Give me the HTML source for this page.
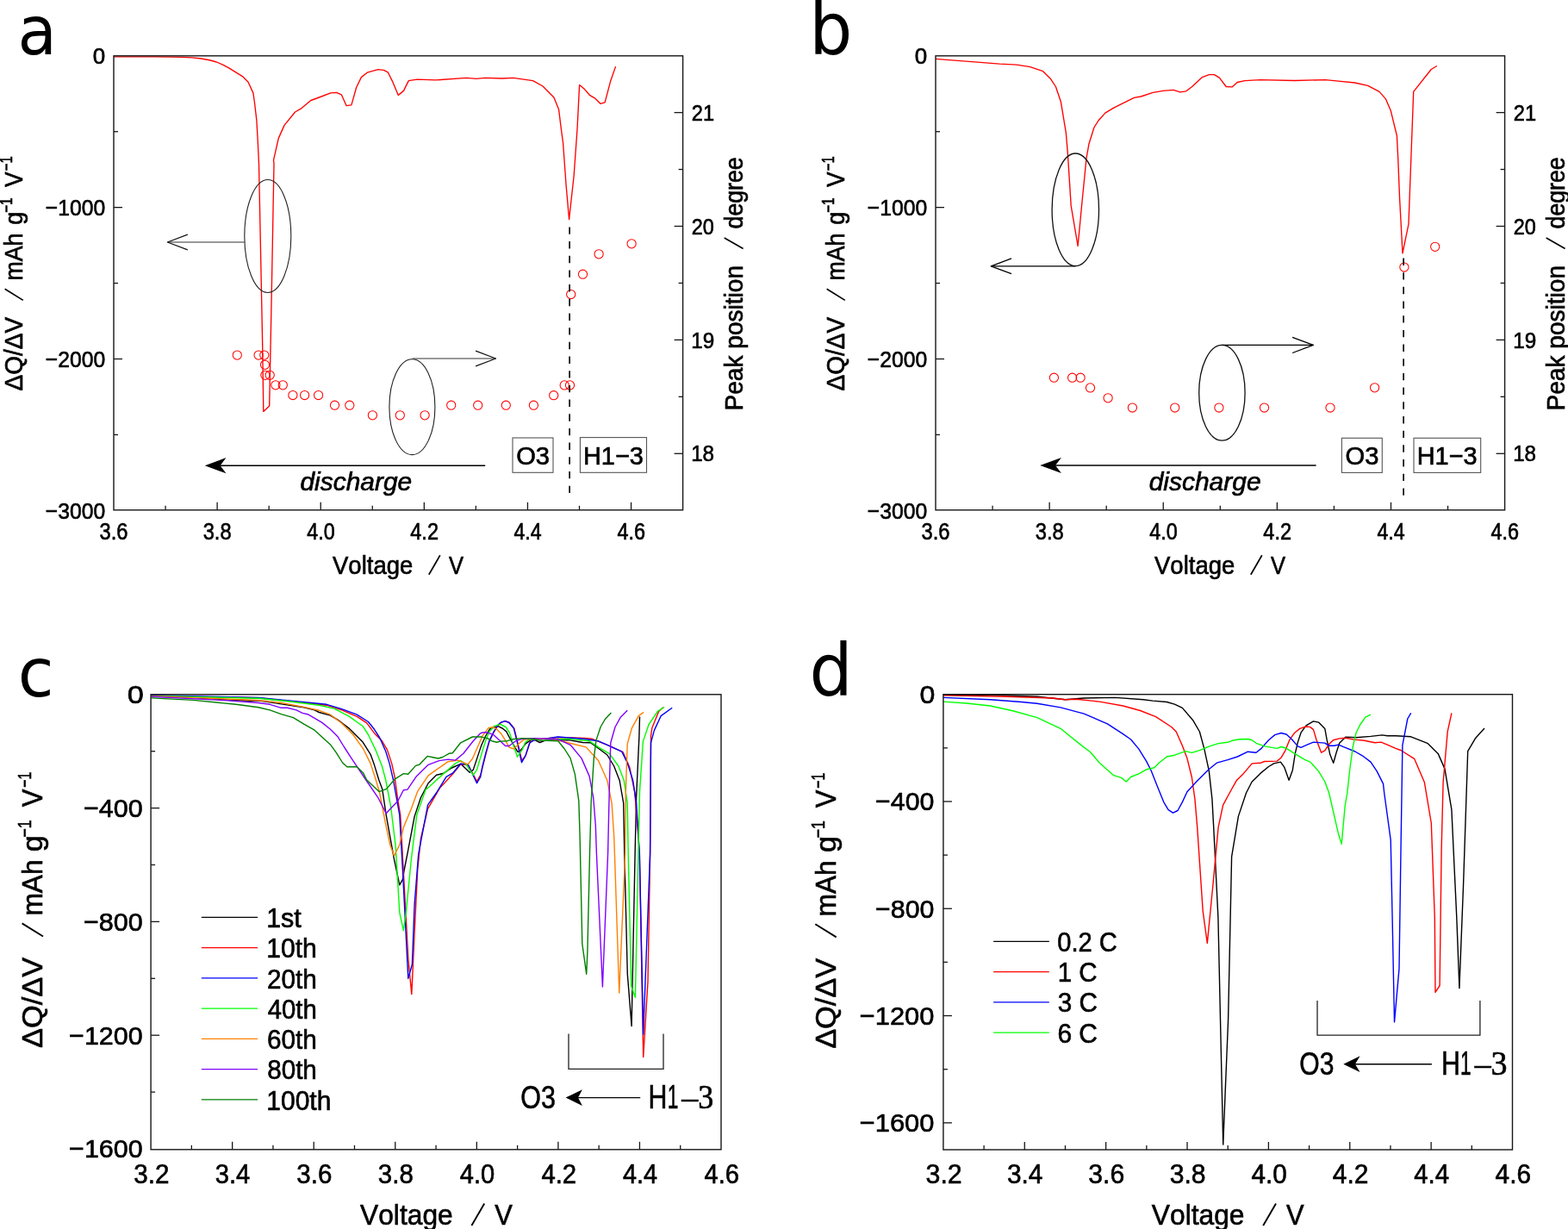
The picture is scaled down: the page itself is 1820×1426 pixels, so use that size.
<!DOCTYPE html>
<html><head><meta charset="utf-8"><title>dQ/dV figure</title>
<style>
html,body{margin:0;padding:0;background:#fff;}
body{width:1820px;height:1426px;overflow:hidden;}
svg{display:block;}
text{font-kerning:none;}
</style></head>
<body>
<svg width="1820" height="1426" viewBox="0 0 1820 1426">
<rect width="1820" height="1426" fill="#fff"/>
<line x1="132" y1="152.72" x2="137" y2="152.72" stroke="#161616" stroke-width="1.3" />
<line x1="132" y1="240.65" x2="142" y2="240.65" stroke="#161616" stroke-width="1.3" />
<line x1="132" y1="328.57" x2="137" y2="328.57" stroke="#161616" stroke-width="1.3" />
<line x1="132" y1="416.5" x2="142" y2="416.5" stroke="#161616" stroke-width="1.3" />
<line x1="132" y1="504.43" x2="137" y2="504.43" stroke="#161616" stroke-width="1.3" />
<line x1="192.05" y1="591.8" x2="192.05" y2="586.8" stroke="#161616" stroke-width="1.3" />
<line x1="252.11" y1="591.8" x2="252.11" y2="582.8" stroke="#161616" stroke-width="1.3" />
<line x1="312.16" y1="591.8" x2="312.16" y2="586.8" stroke="#161616" stroke-width="1.3" />
<line x1="372.22" y1="591.8" x2="372.22" y2="582.8" stroke="#161616" stroke-width="1.3" />
<line x1="432.27" y1="591.8" x2="432.27" y2="586.8" stroke="#161616" stroke-width="1.3" />
<line x1="492.33" y1="591.8" x2="492.33" y2="582.8" stroke="#161616" stroke-width="1.3" />
<line x1="552.38" y1="591.8" x2="552.38" y2="586.8" stroke="#161616" stroke-width="1.3" />
<line x1="612.44" y1="591.8" x2="612.44" y2="582.8" stroke="#161616" stroke-width="1.3" />
<line x1="672.49" y1="591.8" x2="672.49" y2="586.8" stroke="#161616" stroke-width="1.3" />
<line x1="732.55" y1="591.8" x2="732.55" y2="582.8" stroke="#161616" stroke-width="1.3" />
<line x1="792.6" y1="130.6" x2="782.6" y2="130.6" stroke="#161616" stroke-width="1.3" />
<line x1="792.6" y1="196.55" x2="787.6" y2="196.55" stroke="#161616" stroke-width="1.3" />
<line x1="792.6" y1="262.5" x2="782.6" y2="262.5" stroke="#161616" stroke-width="1.3" />
<line x1="792.6" y1="328.45" x2="787.6" y2="328.45" stroke="#161616" stroke-width="1.3" />
<line x1="792.6" y1="394.4" x2="782.6" y2="394.4" stroke="#161616" stroke-width="1.3" />
<line x1="792.6" y1="460.35" x2="787.6" y2="460.35" stroke="#161616" stroke-width="1.3" />
<line x1="792.6" y1="526.3" x2="782.6" y2="526.3" stroke="#161616" stroke-width="1.3" />
<text transform="translate(107.79,73.75) scale(0.9752,1)" font-family="'Liberation Sans', Arial, sans-serif" font-size="26.60" fill="#000" stroke="#000" stroke-width="0.65">0</text>
<text transform="translate(52.78,249.8) scale(0.9287,1)" font-family="'Liberation Sans', Arial, sans-serif" font-size="26.60" fill="#000" stroke="#000" stroke-width="0.65">−1000</text>
<text transform="translate(52.78,425.65) scale(0.9287,1)" font-family="'Liberation Sans', Arial, sans-serif" font-size="26.60" fill="#000" stroke="#000" stroke-width="0.65">−2000</text>
<text transform="translate(52.78,601.5) scale(0.9287,1)" font-family="'Liberation Sans', Arial, sans-serif" font-size="26.60" fill="#000" stroke="#000" stroke-width="0.65">−3000</text>
<text transform="translate(115.6,626.2) scale(0.8777,1)" font-family="'Liberation Sans', Arial, sans-serif" font-size="27.00" fill="#000" stroke="#000" stroke-width="0.65">3.6</text>
<text transform="translate(235.71,626.2) scale(0.8774,1)" font-family="'Liberation Sans', Arial, sans-serif" font-size="27.00" fill="#000" stroke="#000" stroke-width="0.65">3.8</text>
<text transform="translate(356.18,626.2) scale(0.8645,1)" font-family="'Liberation Sans', Arial, sans-serif" font-size="27.00" fill="#000" stroke="#000" stroke-width="0.65">4.0</text>
<text transform="translate(476.29,626.2) scale(0.8719,1)" font-family="'Liberation Sans', Arial, sans-serif" font-size="27.00" fill="#000" stroke="#000" stroke-width="0.65">4.2</text>
<text transform="translate(596.4,626.2) scale(0.8582,1)" font-family="'Liberation Sans', Arial, sans-serif" font-size="27.00" fill="#000" stroke="#000" stroke-width="0.65">4.4</text>
<text transform="translate(716.51,626.2) scale(0.8677,1)" font-family="'Liberation Sans', Arial, sans-serif" font-size="27.00" fill="#000" stroke="#000" stroke-width="0.65">4.6</text>
<text transform="translate(802.81,139.75) scale(0.8905,1)" font-family="'Liberation Sans', Arial, sans-serif" font-size="26.60" fill="#000" stroke="#000" stroke-width="0.65">21</text>
<text transform="translate(802.82,271.65) scale(0.8820,1)" font-family="'Liberation Sans', Arial, sans-serif" font-size="26.60" fill="#000" stroke="#000" stroke-width="0.65">20</text>
<text transform="translate(802.15,403.55) scale(0.9125,1)" font-family="'Liberation Sans', Arial, sans-serif" font-size="26.60" fill="#000" stroke="#000" stroke-width="0.65">19</text>
<text transform="translate(802.16,535.45) scale(0.9089,1)" font-family="'Liberation Sans', Arial, sans-serif" font-size="26.60" fill="#000" stroke="#000" stroke-width="0.65">18</text>
<text transform="translate(385.98,665.8) scale(0.9425,1)" font-family="'Liberation Sans', Arial, sans-serif" font-size="29.20" fill="#000" stroke="#000" stroke-width="0.65">Voltage</text>
<line x1="497.8" y1="666.8" x2="510.8" y2="644.3" stroke="#000" stroke-width="1.7" />
<text transform="translate(520.99,665.8) scale(0.8741,1)" font-family="'Liberation Sans', Arial, sans-serif" font-size="29.20" fill="#000" stroke="#000" stroke-width="0.65">V</text>
<g transform="translate(26.2,452.7) rotate(-90)">
<text transform="translate(-0.84,0) scale(0.9537,1)" font-family="'Liberation Sans', Arial, sans-serif" font-size="29.40" fill="#000" stroke="#000" stroke-width="0.65">ΔQ/ΔV</text>
<line x1="104.3" y1="0.6" x2="117.5" y2="-20.58" stroke="#000" stroke-width="1.7" />
<text transform="translate(127.12,0) scale(0.9118,1)" font-family="'Liberation Sans', Arial, sans-serif" font-size="29.40" fill="#000" stroke="#000" stroke-width="0.65">mAh</text>
<text transform="translate(191.87,0) scale(0.9152,1)" font-family="'Liberation Sans', Arial, sans-serif" font-size="29.40" fill="#000" stroke="#000" stroke-width="0.65">g</text>
<text transform="translate(205.85,-12.6) scale(0.7785,1)" font-family="'Liberation Sans', Arial, sans-serif" font-size="19.60" fill="#000" stroke="#000" stroke-width="0.65">−1</text>
<text transform="translate(235.58,0) scale(0.8940,1)" font-family="'Liberation Sans', Arial, sans-serif" font-size="29.40" fill="#000" stroke="#000" stroke-width="0.65">V</text>
<text transform="translate(254.47,-12.6) scale(0.7589,1)" font-family="'Liberation Sans', Arial, sans-serif" font-size="19.60" fill="#000" stroke="#000" stroke-width="0.65">−1</text>
</g>
<g transform="translate(862,474.2) rotate(-90)">
<text transform="translate(-2.3,0) scale(0.9685,1)" font-family="'Liberation Sans', Arial, sans-serif" font-size="29.00" fill="#000" stroke="#000" stroke-width="0.65">Peak position</text>
<line x1="185.8" y1="0.6" x2="198.1" y2="-21.3" stroke="#000" stroke-width="1.7" />
<text transform="translate(208.78,0) scale(0.9203,1)" font-family="'Liberation Sans', Arial, sans-serif" font-size="29.00" fill="#000" stroke="#000" stroke-width="0.65">degree</text>
</g>
<text transform="translate(20.45,63.38) scale(0.9365,1)" font-family="'DejaVu Sans', sans-serif" font-size="79.06" fill="#000">a</text>
<polyline points="132,65.8 180,65.9 199.3,66.1 212.1,66.3 222.9,66.9 233.6,68 244.3,70 251.4,72 258.6,75.1 265.7,78.9 272.9,83.4 281.4,88.6 287.9,95 293.9,107.9 295.7,120.7 297.9,140 299.2,162.7 300.5,190 304.7,400.5 305.8,477.4 312.7,471 315.3,337.4 318,190 317.5,185.8 323.3,160.4 330,145.4 342.5,130 349.2,126.2 360.8,116.5 370.4,113 383.8,107.9 390.6,107.3 396.3,109.8 402.1,122.7 407.9,121.9 413.7,101.2 419.4,89.6 426.2,84.2 438.7,80.6 445.4,81.3 450.2,83.8 456,95.4 462.3,110.4 468.5,105.4 474.3,93.6 484.3,92.1 505.7,92.9 541.4,90.4 552.9,91.4 562.9,90.3 582.9,91 595.7,90.3 618.6,93.6 630,100 642.9,112.9 648.6,127.1 651.4,150 653.6,166.2 657.2,216.3 660.6,254.6 661.7,244.3 666.1,204.5 670,150 672.6,98.6 678.6,103.6 684.3,110.3 690,113.6 696.9,120.3 702.1,118.9 708.6,94.3 714.6,77.1" fill="none" stroke="#ff0000" stroke-width="1.35" stroke-linejoin="round" />
<circle cx="275.3" cy="412.1" r="5.1" fill="none" stroke="#ff0000" stroke-width="1.05"/>
<circle cx="300.1" cy="412.1" r="5.1" fill="none" stroke="#ff0000" stroke-width="1.05"/>
<circle cx="306.8" cy="412.1" r="5.1" fill="none" stroke="#ff0000" stroke-width="1.05"/>
<circle cx="307.5" cy="423.3" r="5.1" fill="none" stroke="#ff0000" stroke-width="1.05"/>
<circle cx="307.9" cy="435.3" r="5.1" fill="none" stroke="#ff0000" stroke-width="1.05"/>
<circle cx="313.2" cy="435.3" r="5.1" fill="none" stroke="#ff0000" stroke-width="1.05"/>
<circle cx="319.9" cy="446.8" r="5.1" fill="none" stroke="#ff0000" stroke-width="1.05"/>
<circle cx="328.3" cy="446.8" r="5.1" fill="none" stroke="#ff0000" stroke-width="1.05"/>
<circle cx="339.9" cy="458.5" r="5.1" fill="none" stroke="#ff0000" stroke-width="1.05"/>
<circle cx="353.6" cy="458.5" r="5.1" fill="none" stroke="#ff0000" stroke-width="1.05"/>
<circle cx="369.6" cy="458.5" r="5.1" fill="none" stroke="#ff0000" stroke-width="1.05"/>
<circle cx="388.5" cy="470.2" r="5.1" fill="none" stroke="#ff0000" stroke-width="1.05"/>
<circle cx="405.8" cy="470.2" r="5.1" fill="none" stroke="#ff0000" stroke-width="1.05"/>
<circle cx="432.4" cy="481.8" r="5.1" fill="none" stroke="#ff0000" stroke-width="1.05"/>
<circle cx="464.3" cy="481.8" r="5.1" fill="none" stroke="#ff0000" stroke-width="1.05"/>
<circle cx="493.1" cy="481.8" r="5.1" fill="none" stroke="#ff0000" stroke-width="1.05"/>
<circle cx="523.7" cy="470.2" r="5.1" fill="none" stroke="#ff0000" stroke-width="1.05"/>
<circle cx="554.7" cy="470.2" r="5.1" fill="none" stroke="#ff0000" stroke-width="1.05"/>
<circle cx="587.3" cy="470.2" r="5.1" fill="none" stroke="#ff0000" stroke-width="1.05"/>
<circle cx="619.4" cy="470.2" r="5.1" fill="none" stroke="#ff0000" stroke-width="1.05"/>
<circle cx="642.7" cy="458.7" r="5.1" fill="none" stroke="#ff0000" stroke-width="1.05"/>
<circle cx="655.2" cy="446.9" r="5.1" fill="none" stroke="#ff0000" stroke-width="1.05"/>
<circle cx="661.5" cy="446.9" r="5.1" fill="none" stroke="#ff0000" stroke-width="1.05"/>
<circle cx="662.7" cy="341.5" r="5.1" fill="none" stroke="#ff0000" stroke-width="1.05"/>
<circle cx="676.5" cy="318.2" r="5.1" fill="none" stroke="#ff0000" stroke-width="1.05"/>
<circle cx="695.1" cy="294.8" r="5.1" fill="none" stroke="#ff0000" stroke-width="1.05"/>
<circle cx="733.1" cy="282.8" r="5.1" fill="none" stroke="#ff0000" stroke-width="1.05"/>
<ellipse cx="310.8" cy="274" rx="27" ry="65.5" fill="none" stroke="#222" stroke-width="1.1"/>
<line x1="283.8" y1="281" x2="194.4" y2="281" stroke="#333" stroke-width="1.0" />
<polyline points="217.8,272.1 194.4,281 217.8,289.9" fill="none" stroke="#111" stroke-width="1.15" stroke-linejoin="round" />
<ellipse cx="478.4" cy="472.2" rx="26.5" ry="55.4" fill="none" stroke="#222" stroke-width="1.1"/>
<line x1="478.6" y1="416" x2="575.5" y2="416" stroke="#333" stroke-width="1.0" />
<polyline points="552.1,407.1 575.5,416 552.1,424.9" fill="none" stroke="#111" stroke-width="1.15" stroke-linejoin="round" />
<line x1="661.1" y1="263.4" x2="661.1" y2="573" stroke="#000" stroke-width="1.6" stroke-dasharray="8.4 8.28"/>
<line x1="255.6" y1="540.2" x2="563.2" y2="540.2" stroke="#000" stroke-width="1.4" />
<path d="M237.8,540.2 L262.5,531.1 L255.6,540.2 L262.5,549.3 Z" fill="#000"/>
<text transform="translate(348.49,569.4) scale(1.0006,1)" font-family="'Liberation Sans', Arial, sans-serif" font-size="29.90" font-style="italic" fill="#000" stroke="#000" stroke-width="0.65">discharge</text>
<rect x="595" y="508" width="47" height="40.3" fill="none" stroke="#555" stroke-width="1.1"/>
<text transform="translate(599.22,539.1) scale(0.9976,1)" font-family="'Liberation Sans', Arial, sans-serif" font-size="29.20" fill="#000" stroke="#000" stroke-width="0.65">O3</text>
<rect x="673.4" y="507.6" width="77.1" height="40.7" fill="none" stroke="#555" stroke-width="1.1"/>
<text transform="translate(676.93,539.1) scale(0.9904,1)" font-family="'Liberation Sans', Arial, sans-serif" font-size="29.20" fill="#000" stroke="#000" stroke-width="0.65">H1−3</text>
<line x1="1086" y1="152.72" x2="1091" y2="152.72" stroke="#161616" stroke-width="1.3" />
<line x1="1086" y1="240.65" x2="1096" y2="240.65" stroke="#161616" stroke-width="1.3" />
<line x1="1086" y1="328.57" x2="1091" y2="328.57" stroke="#161616" stroke-width="1.3" />
<line x1="1086" y1="416.5" x2="1096" y2="416.5" stroke="#161616" stroke-width="1.3" />
<line x1="1086" y1="504.43" x2="1091" y2="504.43" stroke="#161616" stroke-width="1.3" />
<line x1="1152.06" y1="591.8" x2="1152.06" y2="586.8" stroke="#161616" stroke-width="1.3" />
<line x1="1218.12" y1="591.8" x2="1218.12" y2="582.8" stroke="#161616" stroke-width="1.3" />
<line x1="1284.18" y1="591.8" x2="1284.18" y2="586.8" stroke="#161616" stroke-width="1.3" />
<line x1="1350.24" y1="591.8" x2="1350.24" y2="582.8" stroke="#161616" stroke-width="1.3" />
<line x1="1416.3" y1="591.8" x2="1416.3" y2="586.8" stroke="#161616" stroke-width="1.3" />
<line x1="1482.36" y1="591.8" x2="1482.36" y2="582.8" stroke="#161616" stroke-width="1.3" />
<line x1="1548.42" y1="591.8" x2="1548.42" y2="586.8" stroke="#161616" stroke-width="1.3" />
<line x1="1614.48" y1="591.8" x2="1614.48" y2="582.8" stroke="#161616" stroke-width="1.3" />
<line x1="1680.54" y1="591.8" x2="1680.54" y2="586.8" stroke="#161616" stroke-width="1.3" />
<line x1="1746.6" y1="130.6" x2="1736.6" y2="130.6" stroke="#161616" stroke-width="1.3" />
<line x1="1746.6" y1="196.55" x2="1741.6" y2="196.55" stroke="#161616" stroke-width="1.3" />
<line x1="1746.6" y1="262.5" x2="1736.6" y2="262.5" stroke="#161616" stroke-width="1.3" />
<line x1="1746.6" y1="328.45" x2="1741.6" y2="328.45" stroke="#161616" stroke-width="1.3" />
<line x1="1746.6" y1="394.4" x2="1736.6" y2="394.4" stroke="#161616" stroke-width="1.3" />
<line x1="1746.6" y1="460.35" x2="1741.6" y2="460.35" stroke="#161616" stroke-width="1.3" />
<line x1="1746.6" y1="526.3" x2="1736.6" y2="526.3" stroke="#161616" stroke-width="1.3" />
<text transform="translate(1061.79,73.75) scale(0.9752,1)" font-family="'Liberation Sans', Arial, sans-serif" font-size="26.60" fill="#000" stroke="#000" stroke-width="0.65">0</text>
<text transform="translate(1006.78,249.8) scale(0.9287,1)" font-family="'Liberation Sans', Arial, sans-serif" font-size="26.60" fill="#000" stroke="#000" stroke-width="0.65">−1000</text>
<text transform="translate(1006.78,425.65) scale(0.9287,1)" font-family="'Liberation Sans', Arial, sans-serif" font-size="26.60" fill="#000" stroke="#000" stroke-width="0.65">−2000</text>
<text transform="translate(1006.78,601.5) scale(0.9287,1)" font-family="'Liberation Sans', Arial, sans-serif" font-size="26.60" fill="#000" stroke="#000" stroke-width="0.65">−3000</text>
<text transform="translate(1069.6,626.2) scale(0.8777,1)" font-family="'Liberation Sans', Arial, sans-serif" font-size="27.00" fill="#000" stroke="#000" stroke-width="0.65">3.6</text>
<text transform="translate(1201.72,626.2) scale(0.8774,1)" font-family="'Liberation Sans', Arial, sans-serif" font-size="27.00" fill="#000" stroke="#000" stroke-width="0.65">3.8</text>
<text transform="translate(1334.2,626.2) scale(0.8645,1)" font-family="'Liberation Sans', Arial, sans-serif" font-size="27.00" fill="#000" stroke="#000" stroke-width="0.65">4.0</text>
<text transform="translate(1466.32,626.2) scale(0.8719,1)" font-family="'Liberation Sans', Arial, sans-serif" font-size="27.00" fill="#000" stroke="#000" stroke-width="0.65">4.2</text>
<text transform="translate(1598.45,626.2) scale(0.8582,1)" font-family="'Liberation Sans', Arial, sans-serif" font-size="27.00" fill="#000" stroke="#000" stroke-width="0.65">4.4</text>
<text transform="translate(1730.56,626.2) scale(0.8677,1)" font-family="'Liberation Sans', Arial, sans-serif" font-size="27.00" fill="#000" stroke="#000" stroke-width="0.65">4.6</text>
<text transform="translate(1756.81,139.75) scale(0.8905,1)" font-family="'Liberation Sans', Arial, sans-serif" font-size="26.60" fill="#000" stroke="#000" stroke-width="0.65">21</text>
<text transform="translate(1756.82,271.65) scale(0.8820,1)" font-family="'Liberation Sans', Arial, sans-serif" font-size="26.60" fill="#000" stroke="#000" stroke-width="0.65">20</text>
<text transform="translate(1756.15,403.55) scale(0.9125,1)" font-family="'Liberation Sans', Arial, sans-serif" font-size="26.60" fill="#000" stroke="#000" stroke-width="0.65">19</text>
<text transform="translate(1756.16,535.45) scale(0.9089,1)" font-family="'Liberation Sans', Arial, sans-serif" font-size="26.60" fill="#000" stroke="#000" stroke-width="0.65">18</text>
<text transform="translate(1339.98,665.8) scale(0.9425,1)" font-family="'Liberation Sans', Arial, sans-serif" font-size="29.20" fill="#000" stroke="#000" stroke-width="0.65">Voltage</text>
<line x1="1451.8" y1="666.8" x2="1464.8" y2="644.3" stroke="#000" stroke-width="1.7" />
<text transform="translate(1474.99,665.8) scale(0.8741,1)" font-family="'Liberation Sans', Arial, sans-serif" font-size="29.20" fill="#000" stroke="#000" stroke-width="0.65">V</text>
<g transform="translate(980.2,452.7) rotate(-90)">
<text transform="translate(-0.84,0) scale(0.9537,1)" font-family="'Liberation Sans', Arial, sans-serif" font-size="29.40" fill="#000" stroke="#000" stroke-width="0.65">ΔQ/ΔV</text>
<line x1="104.3" y1="0.6" x2="117.5" y2="-20.58" stroke="#000" stroke-width="1.7" />
<text transform="translate(127.12,0) scale(0.9118,1)" font-family="'Liberation Sans', Arial, sans-serif" font-size="29.40" fill="#000" stroke="#000" stroke-width="0.65">mAh</text>
<text transform="translate(191.87,0) scale(0.9152,1)" font-family="'Liberation Sans', Arial, sans-serif" font-size="29.40" fill="#000" stroke="#000" stroke-width="0.65">g</text>
<text transform="translate(205.85,-12.6) scale(0.7785,1)" font-family="'Liberation Sans', Arial, sans-serif" font-size="19.60" fill="#000" stroke="#000" stroke-width="0.65">−1</text>
<text transform="translate(235.58,0) scale(0.8940,1)" font-family="'Liberation Sans', Arial, sans-serif" font-size="29.40" fill="#000" stroke="#000" stroke-width="0.65">V</text>
<text transform="translate(254.47,-12.6) scale(0.7589,1)" font-family="'Liberation Sans', Arial, sans-serif" font-size="19.60" fill="#000" stroke="#000" stroke-width="0.65">−1</text>
</g>
<g transform="translate(1816,474.2) rotate(-90)">
<text transform="translate(-2.3,0) scale(0.9685,1)" font-family="'Liberation Sans', Arial, sans-serif" font-size="29.00" fill="#000" stroke="#000" stroke-width="0.65">Peak position</text>
<line x1="185.8" y1="0.6" x2="198.1" y2="-21.3" stroke="#000" stroke-width="1.7" />
<text transform="translate(208.78,0) scale(0.9203,1)" font-family="'Liberation Sans', Arial, sans-serif" font-size="29.00" fill="#000" stroke="#000" stroke-width="0.65">degree</text>
</g>
<text transform="translate(939.23,63.12) scale(0.9496,1)" font-family="'DejaVu Sans', sans-serif" font-size="83.08" fill="#000">b</text>
<polyline points="1086,68.4 1160.2,74.2 1180,75.2 1195.8,77.7 1210.6,82.7 1219.5,91.6 1225.4,100.5 1231.4,118.3 1237.3,153.9 1239.3,177.6 1243.2,238.9 1251.1,285.4 1256.1,233 1261,183.6 1264,166.7 1269.9,148 1274.9,140 1282.8,131.1 1292.7,125.2 1316.4,113.3 1324.3,112 1338.2,107.4 1350,105.4 1361.9,104.4 1369.8,106.8 1376.7,105.8 1383.7,100.5 1395.5,89.6 1403.4,86.6 1409.4,86.6 1415.3,90.2 1423.2,100.5 1430.1,100.9 1436.1,95.5 1445,93.6 1462.7,92.6 1502.5,93.5 1538.5,92.6 1553.6,94.1 1572.5,96 1587.7,99.4 1601,106.4 1608.5,114.9 1614.2,128.2 1621.4,157.5 1622.7,183.1 1624.6,230.4 1628,293.9 1635,259.8 1640.7,106.4 1661.2,80.5 1667.8,76.5" fill="none" stroke="#ff0000" stroke-width="1.35" stroke-linejoin="round" />
<circle cx="1223.4" cy="438.2" r="5.1" fill="none" stroke="#ff0000" stroke-width="1.05"/>
<circle cx="1244.6" cy="438.2" r="5.1" fill="none" stroke="#ff0000" stroke-width="1.05"/>
<circle cx="1254.1" cy="438.2" r="5.1" fill="none" stroke="#ff0000" stroke-width="1.05"/>
<circle cx="1265.5" cy="449.9" r="5.1" fill="none" stroke="#ff0000" stroke-width="1.05"/>
<circle cx="1286.1" cy="461.8" r="5.1" fill="none" stroke="#ff0000" stroke-width="1.05"/>
<circle cx="1314.4" cy="473" r="5.1" fill="none" stroke="#ff0000" stroke-width="1.05"/>
<circle cx="1363.7" cy="473" r="5.1" fill="none" stroke="#ff0000" stroke-width="1.05"/>
<circle cx="1414.9" cy="473" r="5.1" fill="none" stroke="#ff0000" stroke-width="1.05"/>
<circle cx="1467.5" cy="473" r="5.1" fill="none" stroke="#ff0000" stroke-width="1.05"/>
<circle cx="1544" cy="473" r="5.1" fill="none" stroke="#ff0000" stroke-width="1.05"/>
<circle cx="1595.6" cy="449.8" r="5.1" fill="none" stroke="#ff0000" stroke-width="1.05"/>
<circle cx="1629.9" cy="310" r="5.1" fill="none" stroke="#ff0000" stroke-width="1.05"/>
<circle cx="1665.7" cy="286.3" r="5.1" fill="none" stroke="#ff0000" stroke-width="1.05"/>
<ellipse cx="1248.3" cy="243.3" rx="27.2" ry="65.3" fill="none" stroke="#111" stroke-width="1.3"/>
<line x1="1248.2" y1="308.8" x2="1150.3" y2="308.8" stroke="#000" stroke-width="1.3" />
<polyline points="1174,299.9 1150.3,308.8 1174,317.7" fill="none" stroke="#000" stroke-width="1.3" stroke-linejoin="round" />
<ellipse cx="1418.4" cy="455.8" rx="26.7" ry="55.4" fill="none" stroke="#111" stroke-width="1.3"/>
<line x1="1418.4" y1="400.4" x2="1524.3" y2="400.4" stroke="#000" stroke-width="1.3" />
<polyline points="1500.1,391.3 1524.3,400.4 1500.1,409.5" fill="none" stroke="#000" stroke-width="1.3" stroke-linejoin="round" />
<line x1="1629.1" y1="299.5" x2="1629.1" y2="583" stroke="#000" stroke-width="1.6" stroke-dasharray="8.4 8.28"/>
<line x1="1225" y1="540" x2="1527.6" y2="540" stroke="#000" stroke-width="1.4" />
<path d="M1207.2,540 L1231.9,530.9 L1225,540 L1231.9,549.1 Z" fill="#000"/>
<text transform="translate(1333.69,569.4) scale(1.0021,1)" font-family="'Liberation Sans', Arial, sans-serif" font-size="29.90" font-style="italic" fill="#000" stroke="#000" stroke-width="0.65">discharge</text>
<rect x="1557.4" y="508.3" width="46.9" height="40.1" fill="none" stroke="#555" stroke-width="1.1"/>
<text transform="translate(1561.62,539.3) scale(0.9976,1)" font-family="'Liberation Sans', Arial, sans-serif" font-size="29.20" fill="#000" stroke="#000" stroke-width="0.65">O3</text>
<rect x="1641" y="508.3" width="77.7" height="40.1" fill="none" stroke="#555" stroke-width="1.1"/>
<text transform="translate(1644.63,539.3) scale(0.9904,1)" font-family="'Liberation Sans', Arial, sans-serif" font-size="29.20" fill="#000" stroke="#000" stroke-width="0.65">H1−3</text>
<line x1="175.1" y1="871.7" x2="180.1" y2="871.7" stroke="#161616" stroke-width="1.3" />
<line x1="175.1" y1="937.6" x2="185.1" y2="937.6" stroke="#161616" stroke-width="1.3" />
<line x1="175.1" y1="1003.5" x2="180.1" y2="1003.5" stroke="#161616" stroke-width="1.3" />
<line x1="175.1" y1="1069.4" x2="185.1" y2="1069.4" stroke="#161616" stroke-width="1.3" />
<line x1="175.1" y1="1135.3" x2="180.1" y2="1135.3" stroke="#161616" stroke-width="1.3" />
<line x1="175.1" y1="1201.2" x2="185.1" y2="1201.2" stroke="#161616" stroke-width="1.3" />
<line x1="175.1" y1="1267.1" x2="180.1" y2="1267.1" stroke="#161616" stroke-width="1.3" />
<line x1="222.38" y1="1333.8" x2="222.38" y2="1328.8" stroke="#161616" stroke-width="1.3" />
<line x1="269.66" y1="1333.8" x2="269.66" y2="1324.8" stroke="#161616" stroke-width="1.3" />
<line x1="316.94" y1="1333.8" x2="316.94" y2="1328.8" stroke="#161616" stroke-width="1.3" />
<line x1="364.21" y1="1333.8" x2="364.21" y2="1324.8" stroke="#161616" stroke-width="1.3" />
<line x1="411.49" y1="1333.8" x2="411.49" y2="1328.8" stroke="#161616" stroke-width="1.3" />
<line x1="458.77" y1="1333.8" x2="458.77" y2="1324.8" stroke="#161616" stroke-width="1.3" />
<line x1="506.05" y1="1333.8" x2="506.05" y2="1328.8" stroke="#161616" stroke-width="1.3" />
<line x1="553.33" y1="1333.8" x2="553.33" y2="1324.8" stroke="#161616" stroke-width="1.3" />
<line x1="600.61" y1="1333.8" x2="600.61" y2="1328.8" stroke="#161616" stroke-width="1.3" />
<line x1="647.89" y1="1333.8" x2="647.89" y2="1324.8" stroke="#161616" stroke-width="1.3" />
<line x1="695.16" y1="1333.8" x2="695.16" y2="1328.8" stroke="#161616" stroke-width="1.3" />
<line x1="742.44" y1="1333.8" x2="742.44" y2="1324.8" stroke="#161616" stroke-width="1.3" />
<line x1="789.72" y1="1333.8" x2="789.72" y2="1328.8" stroke="#161616" stroke-width="1.3" />
<text transform="translate(147.66,816.26) scale(1.1285,1)" font-family="'Liberation Sans', Arial, sans-serif" font-size="30.40" fill="#000" stroke="#000" stroke-width="0.65">0</text>
<text transform="translate(96.89,948.06) scale(1.0063,1)" font-family="'Liberation Sans', Arial, sans-serif" font-size="30.40" fill="#000" stroke="#000" stroke-width="0.65">−400</text>
<text transform="translate(96.89,1079.86) scale(1.0063,1)" font-family="'Liberation Sans', Arial, sans-serif" font-size="30.40" fill="#000" stroke="#000" stroke-width="0.65">−800</text>
<text transform="translate(80.1,1211.66) scale(1.0037,1)" font-family="'Liberation Sans', Arial, sans-serif" font-size="30.40" fill="#000" stroke="#000" stroke-width="0.65">−1200</text>
<text transform="translate(80.1,1343.46) scale(1.0037,1)" font-family="'Liberation Sans', Arial, sans-serif" font-size="30.40" fill="#000" stroke="#000" stroke-width="0.65">−1600</text>
<text transform="translate(155.17,1372.8) scale(0.9384,1)" font-family="'Liberation Sans', Arial, sans-serif" font-size="31.60" fill="#000" stroke="#000" stroke-width="0.65">3.2</text>
<text transform="translate(249.75,1372.8) scale(0.9235,1)" font-family="'Liberation Sans', Arial, sans-serif" font-size="31.60" fill="#000" stroke="#000" stroke-width="0.65">3.4</text>
<text transform="translate(344.29,1372.8) scale(0.9338,1)" font-family="'Liberation Sans', Arial, sans-serif" font-size="31.60" fill="#000" stroke="#000" stroke-width="0.65">3.6</text>
<text transform="translate(438.85,1372.8) scale(0.9335,1)" font-family="'Liberation Sans', Arial, sans-serif" font-size="31.60" fill="#000" stroke="#000" stroke-width="0.65">3.8</text>
<text transform="translate(533.86,1372.8) scale(0.9197,1)" font-family="'Liberation Sans', Arial, sans-serif" font-size="31.60" fill="#000" stroke="#000" stroke-width="0.65">4.0</text>
<text transform="translate(628.41,1372.8) scale(0.9276,1)" font-family="'Liberation Sans', Arial, sans-serif" font-size="31.60" fill="#000" stroke="#000" stroke-width="0.65">4.2</text>
<text transform="translate(722.98,1372.8) scale(0.9130,1)" font-family="'Liberation Sans', Arial, sans-serif" font-size="31.60" fill="#000" stroke="#000" stroke-width="0.65">4.4</text>
<text transform="translate(817.53,1372.8) scale(0.9231,1)" font-family="'Liberation Sans', Arial, sans-serif" font-size="31.60" fill="#000" stroke="#000" stroke-width="0.65">4.6</text>
<text transform="translate(418.06,1420.8) scale(0.9446,1)" font-family="'Liberation Sans', Arial, sans-serif" font-size="33.60" fill="#000" stroke="#000" stroke-width="0.65">Voltage</text>
<line x1="547.4" y1="1422.1" x2="562.2" y2="1396.6" stroke="#000" stroke-width="1.9" />
<text transform="translate(574.16,1420.8) scale(0.9179,1)" font-family="'Liberation Sans', Arial, sans-serif" font-size="33.60" fill="#000" stroke="#000" stroke-width="0.65">V</text>
<g transform="translate(49.4,1214.9) rotate(-90)">
<text transform="translate(-1.02,0) scale(1.0094,1)" font-family="'Liberation Sans', Arial, sans-serif" font-size="34.00" fill="#000" stroke="#000" stroke-width="0.65">ΔQ/ΔV</text>
<line x1="128.4" y1="0.6" x2="143.5" y2="-23.8" stroke="#000" stroke-width="1.9" />
<text transform="translate(152.29,0) scale(0.9336,1)" font-family="'Liberation Sans', Arial, sans-serif" font-size="34.00" fill="#000" stroke="#000" stroke-width="0.65">mAh</text>
<text transform="translate(226.76,0) scale(1.0072,1)" font-family="'Liberation Sans', Arial, sans-serif" font-size="34.00" fill="#000" stroke="#000" stroke-width="0.65">g</text>
<text transform="translate(243.43,-13.3) scale(0.7806,1)" font-family="'Liberation Sans', Arial, sans-serif" font-size="22.50" fill="#000" stroke="#000" stroke-width="0.65">−1</text>
<text transform="translate(278.56,0) scale(0.9116,1)" font-family="'Liberation Sans', Arial, sans-serif" font-size="34.00" fill="#000" stroke="#000" stroke-width="0.65">V</text>
<text transform="translate(301.12,-13.3) scale(0.6995,1)" font-family="'Liberation Sans', Arial, sans-serif" font-size="22.50" fill="#000" stroke="#000" stroke-width="0.65">−1</text>
</g>
<text transform="translate(20.8,807.58) scale(0.9619,1)" font-family="'DejaVu Sans', sans-serif" font-size="79.06" fill="#000">c</text>
<polyline points="175.8,806.9 290.4,813.2 300,812.9 326.4,816.9 352.7,820.8 365.1,823.9 370.3,826.5 383.5,830.1 392.3,835.3 405.5,845.4 421.3,861.3 430.1,875.3 434.5,887.6 439.8,905 443.7,915.4 448.2,945.6 457.4,996.7 463.8,1026.8 467.4,1020.4 469.2,1009.5 473.8,985.8 481.1,947.4 488.4,925.5 497.1,908.7 506.5,899.3 514.9,897.2 524.3,891 534.7,886.3 545.2,896.2 549.3,893.1 558.7,864.9 560,862 563.9,853.5 568.5,845.8 578.1,842.7 583.1,845 587.8,848.9 591.6,856.2 596.6,865.1 600.9,872.4 603.6,871.3 606.3,868.2 610.1,862.8 615.9,858.9 619.8,858.1 626.6,861.5 632.8,859.1 660,858.6 676.3,861.5 685.4,861.7 694.5,868.2 704.9,876 712.7,889 719.2,905.8 723.7,931.8 724.8,990 728.3,1130.2 733.1,1190.6 737.1,990 738.6,925.3 741.9,853.9 742.5,831.6" fill="none" stroke="#000000" stroke-width="1.4" stroke-linejoin="round" />
<polyline points="175.8,807.1 300,809.8 379.1,818.2 396.7,823.9 414.3,831.4 425.7,838.8 434.5,850.7 443.3,859.5 449.5,870.1 454.7,885.9 458.2,901.7 461.8,928.6 464.7,945.6 469.2,1027.7 473.8,1111.7 477.8,1153.6 481.1,1082.5 484.7,1009.5 488.4,973 496.6,938.3 510.3,914.6 525.3,898.3 534.7,886.8 543.1,887.2 553.5,906.5 557.7,899.4 560.4,889 564.3,873.6 568.1,860.1 573.1,849.7 578.1,841.6 582,838.1 586.6,836.7 591.3,838.5 596.7,845 598.6,852.4 600.9,862 605.7,882.5 610.3,876.4 615.2,861 619.8,858.6 647.5,855.5 678.9,856.5 686.7,857.2 704.9,864.3 723.1,872.7 730.8,890.3 736.7,918.8 739.9,957.7 742.3,990 746.7,1226.5 752,1138.9 754.6,990 755.5,853.9 756.8,844.8 764.6,825.4 769.8,820.8" fill="none" stroke="#ff0000" stroke-width="1.4" stroke-linejoin="round" />
<polyline points="175.8,806.6 300,809.4 379.1,817.3 396.7,822.6 414.3,829.2 427.5,837.5 434.5,846.3 440.7,856 447.7,871.8 452.1,885.9 456.5,905 463.8,945.6 467.4,1009.5 471.1,1082.5 473.8,1135.4 478.4,1119 481.1,1049.6 485.7,991.2 496.6,933.8 506.5,920 518,901.4 525.3,897.2 534.7,886.3 543.1,886.8 553.5,908.7 557.7,901.4 560,889 563.9,873.6 567.7,860.1 572.7,849.7 577.7,841.6 581.6,838.1 586.2,836.7 590.9,838.5 596.3,845 598.2,852.4 600.5,862 605.5,884.7 609.7,877.4 614.8,862 619.8,858.9 647.5,855 676.3,857.2 694.5,859.8 704.9,864.3 721.8,872.1 728.2,885.1 734.7,905.8 738.6,931.8 742.3,990 746.7,1200.2 754.6,990 755.5,861.7 759.4,847.4 767.2,830.6 780.2,821.2" fill="none" stroke="#0000ff" stroke-width="1.4" stroke-linejoin="round" />
<polyline points="175.8,807.4 300,810.3 335.2,813.8 370.3,818.2 387.9,822.1 405.5,831.4 421.3,842.8 427.5,852.5 436.3,870.9 443.3,888.5 447.7,905 453.7,936.5 459.2,982.1 463.8,1058.8 468.3,1079.7 471.1,1060.6 477.4,996.7 483.8,945.6 493.9,916.4 498.4,912.8 511.8,900.4 528.5,885.8 534.7,882.6 541,886.8 549.3,899.3 553.5,893.1 560,871.3 563.9,858.9 567.7,849.3 573.9,842.3 580.8,840.4 587,843.5 591.6,850.4 593.9,858.1 600.5,878.2 606.3,869.7 609.7,861.2 614,858.1 619.8,857.8 660,857.4 684.1,859.8 694.5,866.9 707.5,874.7 717.9,889 724.3,905.8 728.2,931.8 729.2,990 732.7,1144.2 737.4,1157.3 740.9,990 742.5,918.8 746.4,860.4 752.9,841 763.3,825.4 771.1,820.5" fill="none" stroke="#00ff00" stroke-width="1.4" stroke-linejoin="round" />
<polyline points="175.8,807.6 300,812.5 326.4,815.5 352.7,820.4 370.3,824.3 383.5,829.2 396.7,839.3 409.9,852.5 421.3,868.3 430.1,885.9 436.3,905 440.4,918.7 447.3,954.7 452.8,980.3 457.4,993.1 463.8,980.3 468.3,960.2 477.4,938.3 484.7,918.2 497.1,899.9 506.5,893.1 520.1,883.7 531.6,882.1 543.1,886.8 548.3,880.5 556.6,861.8 560,853.9 566.9,844.6 572.7,843.5 576.2,845.8 581.6,851.2 587,859.7 590.9,867 596.3,868.9 602.4,862.8 608.2,858.1 619.8,857.4 640,857.2 659.5,861.7 680.2,866.9 694.5,882.5 704.9,905.8 710.1,931.8 712.7,970.7 713.4,990 718.7,1152.1 725.7,990 726.3,918.8 728.2,863 733.4,844.8 741.2,830.6 747.1,826.4" fill="none" stroke="#ff8000" stroke-width="1.4" stroke-linejoin="round" />
<polyline points="175.8,808.2 257.4,812.4 300,815.5 313.2,817.3 326.4,821.3 333.4,821.3 344,823.9 351,827.4 357.1,828.7 373.8,838.4 383.5,846.3 392.3,855.1 399.3,866.5 407.3,878.8 414.3,889.4 424.8,905 438.7,925.3 448.2,943.8 461.9,929.2 468.3,916.8 472.9,916.1 483.6,900.4 497.1,887.3 509.7,882.6 520.1,881.1 528.5,882.1 537.9,874.3 549.3,859.7 557.7,850.8 560,850 564.6,849.7 572.7,852.4 580.1,859.3 586.6,865.5 590.9,865.5 598.6,859.7 606.3,857.4 619.8,856.6 647.8,857.8 662.1,864.3 675,879.9 684.1,900.6 688.7,925.3 691.3,957.7 692.4,990 699.4,1145 705.6,990 707.5,905.8 708.8,861.7 714,843.5 720.5,831.9 728.2,824.3" fill="none" stroke="#8000ff" stroke-width="1.4" stroke-linejoin="round" />
<polyline points="175.8,809.9 224.4,812.4 273.9,817.3 300,820.8 313.2,823.9 326.4,828.7 340.4,832.7 352.7,840.2 365.1,847.2 374.7,856 383.5,863.9 390.5,873.6 397.6,885 402.9,889.8 414.3,889.8 421.3,896.4 425.7,905 440,918.6 448.6,915.4 458.5,903.8 468.4,897.6 473.7,898.3 482.5,888.4 486.7,887.3 496.1,877.4 501.3,878.5 508.6,880 513.8,878.5 521.1,874.3 525.3,873.8 534.7,861.8 548.3,855 558.7,855 560,855.4 565.8,856.6 570.8,859.7 576.6,861.2 581.2,860.1 588.9,859.7 594.7,857.8 606.3,856.6 619.8,857.4 626.6,859.1 647.8,859.8 655.6,869.5 662.1,879.9 667.3,898.1 671.8,929.2 673.1,970.7 675.8,1095.1 680.7,1130.2 681.9,1103.9 684.5,990 686.1,931.8 689.3,879.9 691.9,859.1 697.1,843.5 702.3,834.5 709.4,827.1" fill="none" stroke="#008000" stroke-width="1.4" stroke-linejoin="round" />
<line x1="233.8" y1="1064.4" x2="299.1" y2="1064.4" stroke="#000000" stroke-width="1.3" />
<text transform="translate(309.18,1076.2) scale(0.9642,1)" font-family="'Liberation Sans', Arial, sans-serif" font-size="31.60" fill="#000" stroke="#000" stroke-width="0.65">1st</text>
<line x1="233.8" y1="1099.65" x2="299.1" y2="1099.65" stroke="#ff0000" stroke-width="1.3" />
<text transform="translate(309.2,1111.45) scale(0.9537,1)" font-family="'Liberation Sans', Arial, sans-serif" font-size="31.60" fill="#000" stroke="#000" stroke-width="0.65">10th</text>
<line x1="233.8" y1="1134.9" x2="299.1" y2="1134.9" stroke="#0000ff" stroke-width="1.3" />
<text transform="translate(310.01,1146.7) scale(0.9402,1)" font-family="'Liberation Sans', Arial, sans-serif" font-size="31.60" fill="#000" stroke="#000" stroke-width="0.65">20th</text>
<line x1="233.8" y1="1170.15" x2="299.1" y2="1170.15" stroke="#00ff00" stroke-width="1.3" />
<text transform="translate(310.83,1181.95) scale(0.9263,1)" font-family="'Liberation Sans', Arial, sans-serif" font-size="31.60" fill="#000" stroke="#000" stroke-width="0.65">40th</text>
<line x1="233.8" y1="1205.4" x2="299.1" y2="1205.4" stroke="#ff8000" stroke-width="1.3" />
<text transform="translate(309.99,1217.2) scale(0.9404,1)" font-family="'Liberation Sans', Arial, sans-serif" font-size="31.60" fill="#000" stroke="#000" stroke-width="0.65">60th</text>
<line x1="233.8" y1="1240.65" x2="299.1" y2="1240.65" stroke="#8000ff" stroke-width="1.3" />
<text transform="translate(310.21,1252.45) scale(0.9367,1)" font-family="'Liberation Sans', Arial, sans-serif" font-size="31.60" fill="#000" stroke="#000" stroke-width="0.65">80th</text>
<line x1="233.8" y1="1275.9" x2="299.1" y2="1275.9" stroke="#008000" stroke-width="1.3" />
<text transform="translate(309.21,1287.7) scale(0.9515,1)" font-family="'Liberation Sans', Arial, sans-serif" font-size="31.60" fill="#000" stroke="#000" stroke-width="0.65">100th</text>
<polyline points="660,1199.4 660,1240.3 770,1240.3 770,1199.4" fill="none" stroke="#222" stroke-width="1.3"/>
<text transform="translate(604.36,1286.1) scale(0.8047,1)" font-family="'Liberation Sans', Arial, sans-serif" font-size="37.80" fill="#000" stroke="#000" stroke-width="0.65">O3</text>
<line x1="671" y1="1273.6" x2="743.2" y2="1273.6" stroke="#000" stroke-width="1.4" />
<path d="M656.6,1273.6 L675.9,1264.3 L671,1273.6 L675.9,1282.9 Z" fill="#000"/>
<text transform="translate(752.62,1286) scale(0.7758,1)" font-family="'Liberation Sans', Arial, sans-serif" font-size="39.00" fill="#000" stroke="#000" stroke-width="0.65">H</text>
<text transform="translate(774.67,1286) scale(0.5828,1)" font-family="'Liberation Sans', Arial, sans-serif" font-size="39.00" fill="#000" stroke="#000" stroke-width="0.65">1</text>
<text transform="translate(791.36,1286) scale(0.9684,1)" font-family="'Liberation Serif', 'Times New Roman', serif" font-size="39.00" fill="#000" stroke="#000" stroke-width="0.65">–</text>
<text transform="translate(810.17,1286.3) scale(0.9132,1)" font-family="'Liberation Serif', 'Times New Roman', serif" font-size="39.50" fill="#000" stroke="#000" stroke-width="0.65">3</text>
<line x1="1094.9" y1="867.84" x2="1099.9" y2="867.84" stroke="#161616" stroke-width="1.3" />
<line x1="1094.9" y1="929.98" x2="1104.9" y2="929.98" stroke="#161616" stroke-width="1.3" />
<line x1="1094.9" y1="992.12" x2="1099.9" y2="992.12" stroke="#161616" stroke-width="1.3" />
<line x1="1094.9" y1="1054.26" x2="1104.9" y2="1054.26" stroke="#161616" stroke-width="1.3" />
<line x1="1094.9" y1="1116.4" x2="1099.9" y2="1116.4" stroke="#161616" stroke-width="1.3" />
<line x1="1094.9" y1="1178.54" x2="1104.9" y2="1178.54" stroke="#161616" stroke-width="1.3" />
<line x1="1094.9" y1="1240.68" x2="1099.9" y2="1240.68" stroke="#161616" stroke-width="1.3" />
<line x1="1094.9" y1="1302.82" x2="1104.9" y2="1302.82" stroke="#161616" stroke-width="1.3" />
<line x1="1142.09" y1="1334" x2="1142.09" y2="1329" stroke="#161616" stroke-width="1.3" />
<line x1="1189.27" y1="1334" x2="1189.27" y2="1325" stroke="#161616" stroke-width="1.3" />
<line x1="1236.46" y1="1334" x2="1236.46" y2="1329" stroke="#161616" stroke-width="1.3" />
<line x1="1283.64" y1="1334" x2="1283.64" y2="1325" stroke="#161616" stroke-width="1.3" />
<line x1="1330.83" y1="1334" x2="1330.83" y2="1329" stroke="#161616" stroke-width="1.3" />
<line x1="1378.01" y1="1334" x2="1378.01" y2="1325" stroke="#161616" stroke-width="1.3" />
<line x1="1425.2" y1="1334" x2="1425.2" y2="1329" stroke="#161616" stroke-width="1.3" />
<line x1="1472.39" y1="1334" x2="1472.39" y2="1325" stroke="#161616" stroke-width="1.3" />
<line x1="1519.57" y1="1334" x2="1519.57" y2="1329" stroke="#161616" stroke-width="1.3" />
<line x1="1566.76" y1="1334" x2="1566.76" y2="1325" stroke="#161616" stroke-width="1.3" />
<line x1="1613.94" y1="1334" x2="1613.94" y2="1329" stroke="#161616" stroke-width="1.3" />
<line x1="1661.13" y1="1334" x2="1661.13" y2="1325" stroke="#161616" stroke-width="1.3" />
<line x1="1708.31" y1="1334" x2="1708.31" y2="1329" stroke="#161616" stroke-width="1.3" />
<text transform="translate(1067.45,816.16) scale(1.0528,1)" font-family="'Liberation Sans', Arial, sans-serif" font-size="30.40" fill="#000" stroke="#000" stroke-width="0.65">0</text>
<text transform="translate(1016.11,940.44) scale(0.9971,1)" font-family="'Liberation Sans', Arial, sans-serif" font-size="30.40" fill="#000" stroke="#000" stroke-width="0.65">−400</text>
<text transform="translate(1016.11,1064.72) scale(0.9971,1)" font-family="'Liberation Sans', Arial, sans-serif" font-size="30.40" fill="#000" stroke="#000" stroke-width="0.65">−800</text>
<text transform="translate(997.78,1189) scale(1.0146,1)" font-family="'Liberation Sans', Arial, sans-serif" font-size="30.40" fill="#000" stroke="#000" stroke-width="0.65">−1200</text>
<text transform="translate(997.78,1313.28) scale(1.0146,1)" font-family="'Liberation Sans', Arial, sans-serif" font-size="30.40" fill="#000" stroke="#000" stroke-width="0.65">−1600</text>
<text transform="translate(1074.55,1372.8) scale(0.9578,1)" font-family="'Liberation Sans', Arial, sans-serif" font-size="31.60" fill="#000" stroke="#000" stroke-width="0.65">3.2</text>
<text transform="translate(1168.94,1372.8) scale(0.9426,1)" font-family="'Liberation Sans', Arial, sans-serif" font-size="31.60" fill="#000" stroke="#000" stroke-width="0.65">3.4</text>
<text transform="translate(1263.3,1372.8) scale(0.9532,1)" font-family="'Liberation Sans', Arial, sans-serif" font-size="31.60" fill="#000" stroke="#000" stroke-width="0.65">3.6</text>
<text transform="translate(1357.67,1372.8) scale(0.9528,1)" font-family="'Liberation Sans', Arial, sans-serif" font-size="31.60" fill="#000" stroke="#000" stroke-width="0.65">3.8</text>
<text transform="translate(1452.5,1372.8) scale(0.9388,1)" font-family="'Liberation Sans', Arial, sans-serif" font-size="31.60" fill="#000" stroke="#000" stroke-width="0.65">4.0</text>
<text transform="translate(1546.87,1372.8) scale(0.9468,1)" font-family="'Liberation Sans', Arial, sans-serif" font-size="31.60" fill="#000" stroke="#000" stroke-width="0.65">4.2</text>
<text transform="translate(1641.25,1372.8) scale(0.9319,1)" font-family="'Liberation Sans', Arial, sans-serif" font-size="31.60" fill="#000" stroke="#000" stroke-width="0.65">4.4</text>
<text transform="translate(1735.62,1372.8) scale(0.9423,1)" font-family="'Liberation Sans', Arial, sans-serif" font-size="31.60" fill="#000" stroke="#000" stroke-width="0.65">4.6</text>
<text transform="translate(1336.86,1420.8) scale(0.9446,1)" font-family="'Liberation Sans', Arial, sans-serif" font-size="33.60" fill="#000" stroke="#000" stroke-width="0.65">Voltage</text>
<line x1="1466.2" y1="1422.1" x2="1481" y2="1396.6" stroke="#000" stroke-width="1.9" />
<text transform="translate(1492.96,1420.8) scale(0.9179,1)" font-family="'Liberation Sans', Arial, sans-serif" font-size="33.60" fill="#000" stroke="#000" stroke-width="0.65">V</text>
<g transform="translate(970.1,1215.8) rotate(-90)">
<text transform="translate(-1.02,0) scale(1.0094,1)" font-family="'Liberation Sans', Arial, sans-serif" font-size="34.00" fill="#000" stroke="#000" stroke-width="0.65">ΔQ/ΔV</text>
<line x1="128.4" y1="0.6" x2="143.5" y2="-23.8" stroke="#000" stroke-width="1.9" />
<text transform="translate(152.29,0) scale(0.9336,1)" font-family="'Liberation Sans', Arial, sans-serif" font-size="34.00" fill="#000" stroke="#000" stroke-width="0.65">mAh</text>
<text transform="translate(226.76,0) scale(1.0072,1)" font-family="'Liberation Sans', Arial, sans-serif" font-size="34.00" fill="#000" stroke="#000" stroke-width="0.65">g</text>
<text transform="translate(243.43,-13.3) scale(0.7806,1)" font-family="'Liberation Sans', Arial, sans-serif" font-size="22.50" fill="#000" stroke="#000" stroke-width="0.65">−1</text>
<text transform="translate(278.56,0) scale(0.9116,1)" font-family="'Liberation Sans', Arial, sans-serif" font-size="34.00" fill="#000" stroke="#000" stroke-width="0.65">V</text>
<text transform="translate(301.12,-13.3) scale(0.6995,1)" font-family="'Liberation Sans', Arial, sans-serif" font-size="22.50" fill="#000" stroke="#000" stroke-width="0.65">−1</text>
</g>
<text transform="translate(939.44,807.03) scale(0.9520,1)" font-family="'DejaVu Sans', sans-serif" font-size="82.95" fill="#000">d</text>
<polyline points="1095,806.3 1149.4,806.3 1203.8,808.2 1236.4,811.8 1258.2,810 1294.5,809.4 1327.1,811.8 1338,813.1 1354.3,814.5 1363.4,817.2 1372.4,821.4 1385.1,836.3 1392.4,849 1397.8,868.9 1403.3,894.3 1406.9,926.9 1408.7,959.9 1413.9,1064.9 1419.7,1328.1 1425.6,1182.8 1429.6,994.2 1437.4,947.1 1446.5,920 1453.2,907 1462.9,897.4 1472.5,889.5 1478.6,885.9 1486.4,884.1 1490.7,890.1 1496.1,905.2 1500.3,893.7 1503.3,874.4 1506.4,861.1 1510,850.2 1516,841.8 1524.5,836.9 1530.5,838.1 1537.8,845.4 1540.2,858.7 1543.8,875.6 1547.7,885.3 1551.1,873.2 1554.7,862.3 1562,855.1 1574.1,855.7 1591,854.4 1604.3,852.9 1610.3,853.8 1620,853.8 1637.7,854.8 1657.4,862.7 1669.2,874.4 1677,892.1 1684.9,939.3 1690.8,1064.9 1693.9,1146.6 1698.6,1025.7 1703.7,871.7 1712.4,856.8 1723,845" fill="none" stroke="#000000" stroke-width="1.4" stroke-linejoin="round" />
<polyline points="1095,806.9 1167.5,808.2 1221.9,810 1236.4,811.8 1249.1,811.2 1276.3,814.1 1303.5,819 1323.5,824.5 1341.6,831.7 1359.7,843.5 1365.2,849 1372.4,865.3 1377.9,879.8 1383.3,901.5 1386.9,926.9 1389.7,959.9 1396.2,1057.1 1401.3,1094.4 1408,1025.7 1414.1,959.9 1419.6,934.2 1427.2,920 1435.1,905.8 1443.5,897.4 1453.2,885.9 1462.9,885.3 1467.7,883.5 1482.2,883.1 1487,879.2 1491.9,870.8 1496.7,858.7 1502.7,850.2 1508.8,845.4 1516,843 1520.9,843.6 1524.5,846.6 1528.1,858.7 1533.6,873.2 1537.8,870.8 1542.6,863.5 1547.5,858.7 1554.7,856.9 1562,856.3 1571.6,858.1 1583.7,859.3 1595.8,861.7 1603.1,861.1 1610.3,864.1 1620,868.4 1625.9,870.5 1641.6,880.3 1653.4,907.8 1661.3,955 1665.3,1064.9 1666,1151.4 1671.1,1143.5 1673.1,986.4 1675.1,907.8 1680.2,848.9 1684.9,827.3" fill="none" stroke="#ff0000" stroke-width="1.4" stroke-linejoin="round" />
<polyline points="1095,809.4 1149.4,811.8 1185.7,814.5 1203.8,816.3 1231,820.9 1258.2,828.1 1285.4,839.9 1303.5,851.7 1312.6,858 1321.7,868.9 1330.7,883.4 1336.2,894.3 1343.4,912.4 1350.7,930.6 1356.1,939.6 1361.5,943.2 1367,940.5 1372.4,930.6 1377.9,918.8 1388.7,907 1403.3,892.5 1412.3,885.2 1425,881.6 1436.3,878 1448.4,872.2 1458,873.2 1464.1,868.4 1472.5,858.7 1479.8,852.6 1487,850.5 1493.1,852 1499.1,857.5 1506.4,865.9 1510,867.4 1516,864.7 1524.5,861.1 1537.8,862.1 1542.6,865.3 1548.7,865.3 1553.5,864.1 1560.8,867.1 1572.9,872 1581.3,876.8 1591,884.1 1598.2,894.9 1605.5,909.4 1606.7,920 1614.2,974.6 1616.1,1064.9 1618.5,1185.9 1624,1123.9 1626,986.4 1627.9,864.6 1633.8,834 1637.7,827.3" fill="none" stroke="#0000ff" stroke-width="1.4" stroke-linejoin="round" />
<polyline points="1095,814.1 1122.2,816 1149.4,819 1176.6,825 1203.8,832.6 1231,845.3 1254.6,864.4 1265.4,872.5 1276.3,885.2 1292.6,899.7 1301.7,902.4 1307.1,907 1312.6,901.5 1321.7,897.9 1330.7,892.8 1339.8,890.7 1345.2,885.2 1354.3,878 1363.4,876.2 1376.1,871.6 1383.3,873.4 1392.4,870.7 1403.3,866.2 1414.1,862.6 1425,861.3 1430.2,859.3 1438.7,857.7 1448.4,857.5 1453.2,858.7 1458,862.3 1467.7,865.9 1482.2,868.4 1487,866.5 1491.9,867.7 1502.7,874.4 1514.8,881.6 1520.9,884.1 1530.5,894.9 1537.8,907 1542.6,920 1553.3,966.7 1557.2,979.3 1561.2,935 1563.8,920 1566.8,892.5 1570.4,865.9 1574.1,850.2 1578.9,840.5 1584.9,832.1 1591,829.1" fill="none" stroke="#00ff00" stroke-width="1.4" stroke-linejoin="round" />
<line x1="1153.1" y1="1092.3" x2="1217.8" y2="1092.3" stroke="#000000" stroke-width="1.3" />
<text transform="translate(1227.26,1103.9) scale(0.9386,1)" font-family="'Liberation Sans', Arial, sans-serif" font-size="31.00" fill="#000" stroke="#000" stroke-width="0.65">0.2 C</text>
<line x1="1153.1" y1="1127.57" x2="1217.8" y2="1127.57" stroke="#ff0000" stroke-width="1.3" />
<text transform="translate(1227.75,1139.17) scale(0.9508,1)" font-family="'Liberation Sans', Arial, sans-serif" font-size="31.00" fill="#000" stroke="#000" stroke-width="0.65">1 C</text>
<line x1="1153.1" y1="1162.84" x2="1217.8" y2="1162.84" stroke="#0000ff" stroke-width="1.3" />
<text transform="translate(1227.77,1174.44) scale(0.9569,1)" font-family="'Liberation Sans', Arial, sans-serif" font-size="31.00" fill="#000" stroke="#000" stroke-width="0.65">3 C</text>
<line x1="1153.1" y1="1198.11" x2="1217.8" y2="1198.11" stroke="#00ff00" stroke-width="1.3" />
<text transform="translate(1227.38,1209.71) scale(0.9651,1)" font-family="'Liberation Sans', Arial, sans-serif" font-size="31.00" fill="#000" stroke="#000" stroke-width="0.65">6 C</text>
<polyline points="1529,1161.1 1529,1201.1 1717.9,1201.1 1717.9,1161.1" fill="none" stroke="#222" stroke-width="1.3"/>
<text transform="translate(1508.27,1246.8) scale(0.7962,1)" font-family="'Liberation Sans', Arial, sans-serif" font-size="37.80" fill="#000" stroke="#000" stroke-width="0.65">O3</text>
<line x1="1572.9" y1="1234.7" x2="1661.9" y2="1234.7" stroke="#000" stroke-width="1.4" />
<path d="M1559.3,1234.7 L1578.6,1225.3 L1572.9,1234.7 L1578.6,1244.1 Z" fill="#000"/>
<text transform="translate(1672.92,1247) scale(0.7758,1)" font-family="'Liberation Sans', Arial, sans-serif" font-size="39.00" fill="#000" stroke="#000" stroke-width="0.65">H</text>
<text transform="translate(1694.97,1247) scale(0.5828,1)" font-family="'Liberation Sans', Arial, sans-serif" font-size="39.00" fill="#000" stroke="#000" stroke-width="0.65">1</text>
<text transform="translate(1711.66,1247) scale(0.9684,1)" font-family="'Liberation Serif', 'Times New Roman', serif" font-size="39.00" fill="#000" stroke="#000" stroke-width="0.65">–</text>
<text transform="translate(1730.38,1247.3) scale(0.9622,1)" font-family="'Liberation Serif', 'Times New Roman', serif" font-size="39.50" fill="#000" stroke="#000" stroke-width="0.65">3</text>
<rect x="132" y="64.8" width="660.6" height="527" fill="none" stroke="#161616" stroke-width="1.4"/>
<rect x="1086" y="64.8" width="660.6" height="527" fill="none" stroke="#161616" stroke-width="1.4"/>
<rect x="175.1" y="805.8" width="661.9" height="528" fill="none" stroke="#161616" stroke-width="1.4"/>
<rect x="1094.9" y="805.7" width="660.6" height="528.3" fill="none" stroke="#161616" stroke-width="1.4"/>
</svg>
</body></html>
